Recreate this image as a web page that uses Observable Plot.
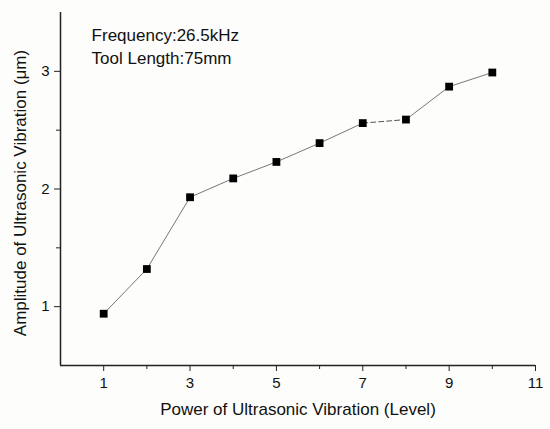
<!DOCTYPE html>
<html>
<head>
<meta charset="utf-8">
<script src="https://cdn.jsdelivr.net/npm/d3@7"></script>
<script src="https://cdn.jsdelivr.net/npm/@observablehq/plot@0.6"></script>
<style>
  body { margin: 0; background: #fdfdfb; }
  #chart { width: 550px; height: 429px; }
</style>
</head>
<body>
<div id="chart"></div>
<script>
// power level vs amplitude
const level = [1, 2, 3, 4, 5, 6, 7, 8, 9, 10]
const amplitude = [0.94, 1.32, 1.93, 2.09, 2.23, 2.39, 2.56, 2.59, 2.87, 2.99]
const xMajor = [1, 3, 5, 7, 9, 11]
const xMinor = [2, 4, 6, 8, 10]
const yMajor = [1, 2, 3]
const yMinor = [1.5, 2.5]
const notes = ["Frequency:26.5kHz", "Tool Length:75mm"]

const data = level.map((x, i) => ({x, y: amplitude[i]}))

let chart = Plot.plot({
    width: 550,
    height: 429,
    marginLeft: 60,
    marginRight: 15,
    marginTop: 12,
    marginBottom: 64,
    x: { domain: [0, 11], label: null },
    y: { domain: [0.5, 3.5], label: null },
    marks: [
        // solid runs, dashed piece between 7 and 8
        Plot.line(data.slice(0, 7), { x: "x", y: "y", stroke: "#777", strokeWidth: 1 }),
        Plot.line(data.slice(7), { x: "x", y: "y", stroke: "#777", strokeWidth: 1 }),
        Plot.line(data.slice(6, 8), { x: "x", y: "y", stroke: "#555", strokeWidth: 1, strokeDasharray: "5,3" }),
        Plot.dot(data, { x: "x", y: "y", symbol: "square", r: 4.4, fill: "black", stroke: "none" }),
        Plot.ruleX([0], { stroke: "#222", strokeWidth: 1.5 }),
        Plot.ruleY([0.5], { stroke: "#222", strokeWidth: 1.5 }),
        Plot.axisX(xMajor, { tickSize: 6, tickPadding: 6, fontSize: 15, tickFormat: d => d, label: null, stroke: "#222" }),
        Plot.axisX(xMinor, { tickSize: 4, tickFormat: () => "", label: null, stroke: "#222" }),
        Plot.axisY(yMajor, { tickSize: 6, tickPadding: 5, fontSize: 15, tickFormat: d => d, label: null, stroke: "#222" }),
        Plot.axisY(yMinor, { tickSize: 4, tickFormat: () => "", label: null, stroke: "#222" }),
        Plot.text(notes, {
            x: 0.72, y: (d, i) => [3.3, 3.11][i], text: d => d,
            textAnchor: "start", fontSize: 17, fill: "#111"
        }),
        Plot.text(["Power of Ultrasonic Vibration (Level)"], {
            x: 5.5, y: 0.5, dy: 44, text: d => d, fontSize: 17, fill: "#111"
        }),
        Plot.text(["Amplitude of Ultrasonic Vibration (\u03bcm)"], {
            x: 0, y: 2, dx: -40, dy: 4, rotate: -90, text: d => d, fontSize: 17, fill: "#111"
        })
    ],
    style: {
        background: "#fdfdfb",
        color: "#111",
        fontFamily: "'Liberation Sans', Arial, sans-serif",
        fontSize: 15,
        overflow: "visible"
    }
})

d3.select('#chart').append(() => chart)
</script>
</body>
</html>
